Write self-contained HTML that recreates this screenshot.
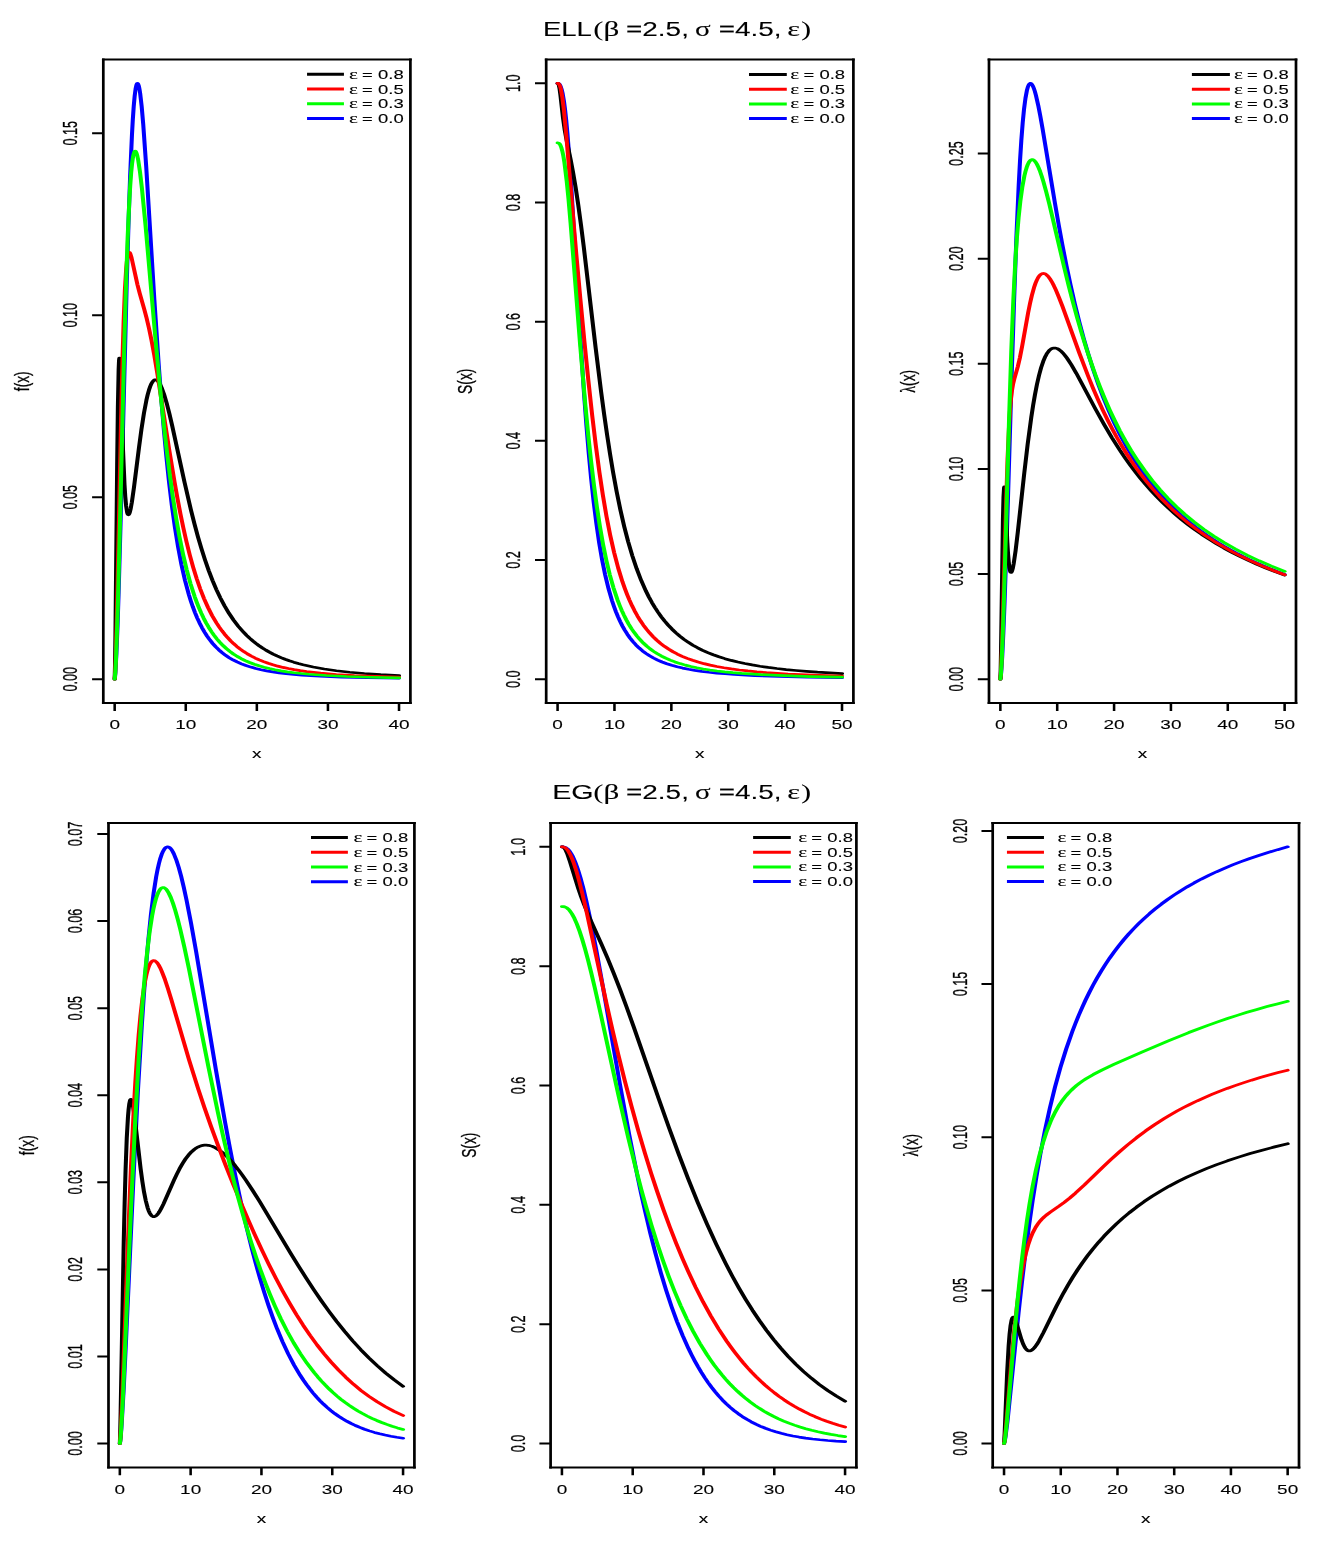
<!DOCTYPE html><html><head><meta charset="utf-8"><title>ELL and EG plots</title><style>html,body{margin:0;padding:0;background:#fff;}svg{display:block}</style></head><body><svg width="1327" height="1543" viewBox="0 0 884.67 1543" preserveAspectRatio="none" font-family="Liberation Sans, Arial, sans-serif" font-size="12.64" fill="#000"><style>text{stroke:#000;stroke-width:0.1px}text.r{stroke-width:0.22px}</style><rect width="100%" height="100%" fill="#fff"/><g fill="none" stroke-width="2.7" stroke-linejoin="round" stroke-linecap="round"><polyline stroke="#0000FF" points="76.45,679.17 76.69,676.8 76.97,671.44 77.63,652.73 78.35,625.84 79.1,591.38 80.57,512.82 84.46,284.96 85.64,224.61 86.73,177.33 87.97,135.08 88.53,119.85 89.15,106.43 89.77,96.19 90.38,89.01 91,84.79 91.33,83.67 91.47,83.43 91.66,83.33 91.85,83.48 92.09,83.99 92.56,86.06 92.99,89.07 93.46,93.58 94.46,106.6 95.5,124.49 97.49,167.06 102.89,299.67 105.83,365.43 107.49,398.42 109.15,428.25 110.86,455.74 112.61,480.79 114.55,505.12 116.59,527.16 118.72,546.93 120.95,564.49 123.32,580.26 125.88,594.49 127.21,600.9 128.58,606.93 130,612.59 131.52,618.04 133.04,622.96 134.65,627.66 136.31,632 138.06,636.12 139.91,639.98 141.8,643.51 143.79,646.79 145.88,649.84 148.06,652.65 150.38,655.29 152.8,657.69 155.36,659.91 158.06,661.95 160.95,663.84 163.98,665.54 167.21,667.1 170.52,668.48 174.03,669.73 177.82,670.87 181.85,671.9 186.16,672.83 190.81,673.67 195.83,674.42 201.23,675.09 213.32,676.2 227.63,677.07 244.88,677.72 266.02,678.21"/><polyline stroke="#000000" points="76.45,679.17 76.69,665.46 76.97,634.82 78.11,465.38 78.58,407.87 79.1,369.69 79.34,361.38 79.48,358.88 79.62,358.06 79.77,358.75 79.96,361.73 80.34,373.17 81.99,449.65 82.99,484.3 83.51,496.59 84.08,505.91 84.7,511.94 84.98,513.52 85.31,514.54 85.6,514.79 85.88,514.52 86.16,513.81 86.5,512.47 87.16,508.44 87.92,502.13 89.34,487.21 92.66,447.62 94.27,429.67 95.97,413.1 97.59,400.33 98.44,394.8 99.29,390.14 100.15,386.37 101,383.46 101.85,381.41 102.7,380.19 103.13,379.87 103.6,379.75 104.03,379.83 104.51,380.14 105.26,381.08 106.07,382.65 106.88,384.77 107.68,387.39 109.43,394.61 111.33,404.36 112.94,413.84 114.79,425.68 123.04,482.43 127.3,509.98 129.62,523.79 131.95,536.66 134.27,548.57 136.59,559.53 139.1,570.37 141.66,580.37 144.27,589.55 146.97,598.1 149.76,606.01 152.7,613.39 155.74,620.12 158.91,626.33 162.61,632.61 164.5,635.49 166.49,638.28 168.53,640.92 170.62,643.41 172.75,645.76 174.98,648.01 177.25,650.13 179.62,652.15 182.09,654.07 184.65,655.88 187.3,657.6 190.05,659.22 192.89,660.73 195.83,662.15 198.86,663.48 202.04,664.73 208.77,666.99 216.16,668.99 224.22,670.72 233.08,672.22 242.89,673.5 253.79,674.6 266.02,675.52"/><polyline stroke="#FF0000" points="76.45,679.17 76.73,673.92 77.07,662.45 77.87,621.12 80.95,403.84 81.71,357.75 82.42,322.16 83.27,290.01 84.13,268.88 84.6,261.32 85.07,256.3 85.6,253.25 85.83,252.59 86.12,252.31 86.45,252.58 86.83,253.56 87.68,257.61 91.61,284.47 93.08,293.03 96.21,309.56 97.68,317.85 99.34,328.35 100.95,339.9 102.85,355.16 104.88,373.27 112.7,448.83 116.35,482.02 118.34,498.69 120.29,513.87 122.23,527.92 124.22,541.16 126.45,554.64 128.72,567.03 131.09,578.56 133.51,589 136.02,598.6 138.68,607.51 141.47,615.7 144.36,623.04 146.12,627 147.92,630.73 149.76,634.23 151.71,637.59 153.7,640.72 155.78,643.7 157.96,646.52 160.19,649.13 162.51,651.58 164.93,653.87 167.44,656.01 170.1,658.03 172.84,659.9 175.74,661.64 178.77,663.27 181.94,664.78 185.21,666.14 188.63,667.4 192.23,668.57 196.07,669.66 200.1,670.65 204.36,671.56 213.7,673.17 224.22,674.49 236.21,675.58 250,676.47 266.02,677.17"/><polyline stroke="#00FF00" points="76.45,679.17 76.83,673.46 77.35,658.3 78.49,608.79 79.62,545.19 82.99,338.6 84.08,281.9 85.07,238.84 86.26,199.44 86.83,185.08 87.44,172.68 88.06,163.36 88.72,156.47 89.39,152.52 89.72,151.54 89.91,151.25 90.1,151.15 90.34,151.28 90.57,151.69 91.09,153.46 91.61,156.32 92.14,160.16 93.32,171.85 94.6,188.04 97.06,225.8 103.75,340.62 107.3,397.17 109.29,425.82 111.24,451.45 113.18,474.75 115.17,496.28 117.35,517.27 119.62,536.54 121.99,554.02 124.46,569.74 127.02,583.76 129.77,596.57 131.19,602.4 132.66,607.93 134.17,613.15 135.78,618.21 137.44,622.94 139.15,627.35 140.9,631.46 142.75,635.37 144.69,639.07 146.68,642.47 148.77,645.65 150.95,648.63 153.22,651.4 155.59,653.96 158.11,656.36 160.71,658.55 163.46,660.59 166.4,662.5 169.48,664.24 172.7,665.83 176.02,667.24 179.57,668.56 183.32,669.75 187.3,670.84 191.52,671.82 196.07,672.72 200.9,673.53 206.11,674.27 217.63,675.5 231.09,676.49 246.97,677.25 266.02,677.84"/></g><path d="M67.97 59.5H274.5M67.97 703H274.5" stroke="#000" stroke-width="2.0" fill="none"/><path d="M68.87 58.5V704M273.6 58.5V704" stroke="#000" stroke-width="1.8" fill="none"/><path d="M76.45 703V710.9M123.84 703V710.9M171.23 703V710.9M218.63 703V710.9M266.02 703V710.9" stroke="#000" stroke-width="1.7" fill="none"/><path d="M68.87 679.17H61.4M68.87 497.21H61.4M68.87 315.26H61.4M68.87 133.31H61.4" stroke="#000" stroke-width="2.0" fill="none"/><text x="76.45" y="729.2" text-anchor="middle">0</text><text x="123.84" y="729.2" text-anchor="middle">10</text><text x="171.23" y="729.2" text-anchor="middle">20</text><text x="218.63" y="729.2" text-anchor="middle">30</text><text x="266.02" y="729.2" text-anchor="middle">40</text><text class="r" transform="translate(51.47 679.17) rotate(-90) scale(1 1.06)" text-anchor="middle">0.00</text><text class="r" transform="translate(51.47 497.21) rotate(-90) scale(1 1.06)" text-anchor="middle">0.05</text><text class="r" transform="translate(51.47 315.26) rotate(-90) scale(1 1.06)" text-anchor="middle">0.10</text><text class="r" transform="translate(51.47 133.31) rotate(-90) scale(1 1.06)" text-anchor="middle">0.15</text><text x="171.23" y="758.4" text-anchor="middle">x</text><text class="r" transform="translate(19.2 381.25) rotate(-90)" text-anchor="middle" font-size="13.8">f(x)</text><path d="M204.7 74.3H229.3" stroke="#000000" stroke-width="3"/><text y="78.9" font-size="12.3"><tspan x="232.63" font-family="Liberation Serif, serif" font-size="14">ε</tspan><tspan x="241.4">=</tspan><tspan x="252.05">0.8</tspan></text><path d="M204.7 89H229.3" stroke="#FF0000" stroke-width="3"/><text y="93.6" font-size="12.3"><tspan x="232.63" font-family="Liberation Serif, serif" font-size="14">ε</tspan><tspan x="241.4">=</tspan><tspan x="252.05">0.5</tspan></text><path d="M204.7 103.7H229.3" stroke="#00FF00" stroke-width="3"/><text y="108.3" font-size="12.3"><tspan x="232.63" font-family="Liberation Serif, serif" font-size="14">ε</tspan><tspan x="241.4">=</tspan><tspan x="252.05">0.3</tspan></text><path d="M204.7 118.4H229.3" stroke="#0000FF" stroke-width="3"/><text y="123" font-size="12.3"><tspan x="232.63" font-family="Liberation Serif, serif" font-size="14">ε</tspan><tspan x="241.4">=</tspan><tspan x="252.05">0.0</tspan></text><g fill="none" stroke-width="2.7" stroke-linejoin="round" stroke-linecap="round"><polyline stroke="#0000FF" points="371.72,83.33 372.24,83.43 372.71,83.82 373.14,84.53 373.57,85.63 374.37,88.97 375.13,93.8 375.94,100.91 376.7,109.51 377.45,119.96 378.26,133.02 379.54,157.52 380.92,188.03 386.56,329.68 389.4,394.45 390.97,425.7 392.53,453.65 394.14,479.14 395.8,502.12 397.56,523.19 399.4,542.25 401.35,559.31 403.43,574.78 405.66,588.6 408.03,600.81 409.27,606.32 410.59,611.69 411.97,616.72 413.39,621.41 414.95,626.04 416.57,630.3 418.27,634.33 420.07,638.11 421.97,641.64 423.96,644.91 426.05,647.94 428.28,650.78 430.6,653.38 433.06,655.8 435.67,658.02 438.47,660.1 441.41,661.99 444.54,663.73 447.85,665.32 451.41,666.78 455.11,668.09 459.04,669.27 463.26,670.36 467.77,671.34 472.6,672.23 477.82,673.05 483.41,673.78 489.48,674.44 503.08,675.56 519.11,676.46 538.26,677.17 561.35,677.72"/><polyline stroke="#000000" points="371.72,83.33 371.91,83.38 372.1,83.59 372.38,84.35 372.67,85.75 373,88.25 373.61,94.98 375.32,117.65 376.41,129.24 377.6,139.19 380.54,160.51 382.1,172.83 383.81,187.98 385.51,205 387.32,224.82 389.26,247.93 397.08,347.63 400.73,391.64 402.72,413.89 404.71,434.72 406.66,453.63 408.65,471.53 411.07,491.32 413.58,509.76 416.14,526.48 418.79,541.83 421.54,555.82 424.44,568.71 427.47,580.48 430.69,591.3 432.59,596.96 434.58,602.41 436.62,607.51 438.71,612.28 440.89,616.83 443.16,621.15 445.53,625.24 448,629.1 450.56,632.72 453.21,636.11 456.01,639.34 458.9,642.34 461.93,645.17 465.11,647.82 468.43,650.3 471.89,652.61 475.49,654.75 479.29,656.76 483.27,658.63 487.49,660.39 491.9,662.01 496.54,663.52 501.47,664.92 506.64,666.22 512.14,667.42 517.92,668.52 524.09,669.55 530.63,670.49 537.6,671.36 544.99,672.16 561.35,673.56"/><polyline stroke="#FF0000" points="371.72,83.33 372.1,83.41 372.38,83.63 372.9,84.6 373.43,86.46 373.9,89.04 374.89,97.35 375.94,110.06 377.64,137.27 381.63,209.66 384.14,253.36 386.89,298.82 389.59,341.35 392.25,380.64 394.76,414.99 397.18,445.08 399.59,472.08 401.92,495.16 404.33,516.35 406.8,535.22 409.41,552.51 412.11,567.89 415,581.9 416.47,588.18 418.04,594.32 419.65,600.1 421.31,605.54 423.11,610.91 424.96,615.9 426.9,620.65 428.89,625.04 430.98,629.18 433.16,633.07 435.43,636.71 437.8,640.11 440.32,643.32 442.92,646.29 445.67,649.07 448.52,651.62 451.55,654.02 454.78,656.28 458.14,658.34 461.7,660.26 465.4,662 469.33,663.63 473.45,665.11 477.86,666.48 482.56,667.75 487.53,668.91 492.84,669.98 498.49,670.95 504.51,671.84 510.95,672.64 525.32,674.05 541.96,675.2 561.35,676.13"/><polyline stroke="#00FF00" points="371.72,142.92 372.24,143.01 372.67,143.33 373.05,143.87 373.43,144.69 374.18,147.33 374.89,151.14 375.61,156.31 376.32,162.89 377.83,181.29 379.02,199.23 380.39,222.9 386.75,344.35 390.21,404.71 392.1,434.09 394,460.65 395.94,484.98 397.89,506.54 399.93,526.38 402.01,544.06 404.24,560.36 406.56,574.91 409.03,588.01 411.68,599.9 413.06,605.28 414.48,610.36 415.95,615.15 417.51,619.78 419.17,624.22 420.93,628.45 422.78,632.45 424.67,636.13 426.66,639.59 428.8,642.9 430.98,645.9 433.3,648.74 435.72,651.36 438.28,653.81 440.98,656.09 443.83,658.2 446.81,660.13 449.99,661.93 453.35,663.6 456.91,665.12 460.61,666.5 464.54,667.76 468.76,668.94 473.22,670 478.01,670.98 483.08,671.86 488.53,672.68 494.36,673.41 507.35,674.68 522.52,675.72 540.3,676.55 561.35,677.21"/></g><path d="M363.23 59.5H569.83M363.23 703H569.83" stroke="#000" stroke-width="2.0" fill="none"/><path d="M364.13 58.5V704M568.93 58.5V704" stroke="#000" stroke-width="1.8" fill="none"/><path d="M371.72 703V710.9M409.64 703V710.9M447.57 703V710.9M485.5 703V710.9M523.42 703V710.9M561.35 703V710.9" stroke="#000" stroke-width="1.7" fill="none"/><path d="M364.13 679.17H356.67M364.13 560H356.67M364.13 440.83H356.67M364.13 321.67H356.67M364.13 202.5H356.67M364.13 83.33H356.67" stroke="#000" stroke-width="2.0" fill="none"/><text x="371.72" y="729.2" text-anchor="middle">0</text><text x="409.64" y="729.2" text-anchor="middle">10</text><text x="447.57" y="729.2" text-anchor="middle">20</text><text x="485.5" y="729.2" text-anchor="middle">30</text><text x="523.42" y="729.2" text-anchor="middle">40</text><text x="561.35" y="729.2" text-anchor="middle">50</text><text class="r" transform="translate(346.73 679.17) rotate(-90) scale(1 1.06)" text-anchor="middle">0.0</text><text class="r" transform="translate(346.73 560) rotate(-90) scale(1 1.06)" text-anchor="middle">0.2</text><text class="r" transform="translate(346.73 440.83) rotate(-90) scale(1 1.06)" text-anchor="middle">0.4</text><text class="r" transform="translate(346.73 321.67) rotate(-90) scale(1 1.06)" text-anchor="middle">0.6</text><text class="r" transform="translate(346.73 202.5) rotate(-90) scale(1 1.06)" text-anchor="middle">0.8</text><text class="r" transform="translate(346.73 83.33) rotate(-90) scale(1 1.06)" text-anchor="middle">1.0</text><text x="466.53" y="758.4" text-anchor="middle">x</text><text class="r" transform="translate(314.47 381.25) rotate(-90)" text-anchor="middle" font-size="13.8">S(x)</text><path d="M499.33 74.5H524.53" stroke="#000000" stroke-width="3"/><text y="79.1" font-size="12.3"><tspan x="526.86" font-family="Liberation Serif, serif" font-size="14">ε</tspan><tspan x="535.63">=</tspan><tspan x="546.29">0.8</tspan></text><path d="M499.33 89.2H524.53" stroke="#FF0000" stroke-width="3"/><text y="93.8" font-size="12.3"><tspan x="526.86" font-family="Liberation Serif, serif" font-size="14">ε</tspan><tspan x="535.63">=</tspan><tspan x="546.29">0.5</tspan></text><path d="M499.33 103.9H524.53" stroke="#00FF00" stroke-width="3"/><text y="108.5" font-size="12.3"><tspan x="526.86" font-family="Liberation Serif, serif" font-size="14">ε</tspan><tspan x="535.63">=</tspan><tspan x="546.29">0.3</tspan></text><path d="M499.33 118.6H524.53" stroke="#0000FF" stroke-width="3"/><text y="123.2" font-size="12.3"><tspan x="526.86" font-family="Liberation Serif, serif" font-size="14">ε</tspan><tspan x="535.63">=</tspan><tspan x="546.29">0.0</tspan></text><g fill="none" stroke-width="2.7" stroke-linejoin="round" stroke-linecap="round"><polyline stroke="#0000FF" points="666.91,679.17 667.15,677.26 667.48,672.06 668.15,656.53 668.9,632.84 669.71,602.51 671.27,533.11 674.54,371.08 676.01,302.52 677.62,236.48 679.14,185.32 679.99,161.55 680.89,140.35 681.79,122.97 682.69,109.19 683.64,98.25 684.63,90.28 685.11,87.64 685.63,85.5 686.15,84.12 686.43,83.67 686.72,83.41 687,83.33 687.29,83.44 687.9,84.24 688.56,85.9 689.23,88.28 689.94,91.55 690.65,95.44 692.21,105.78 693.49,115.61 695.01,128.33 703.35,203.71 705.81,224.89 708.23,244.59 710.97,265.63 713.77,285.51 716.56,303.93 719.45,321.52 722.44,338.25 725.57,354.36 728.79,369.58 732.1,383.94 735.56,397.66 739.21,410.9 742.95,423.3 746.89,435.21 751.48,447.85 756.27,459.73 761.29,470.99 763.89,476.4 766.59,481.72 769.34,486.87 772.14,491.84 775.03,496.72 778.01,501.51 781.04,506.13 784.17,510.65 787.34,515.01 790.61,519.27 793.98,523.43 797.44,527.49 800.99,531.45 804.59,535.26 808.33,539.02 812.17,542.68 816.1,546.24 820.13,549.69 824.25,553.05 828.51,556.35 832.87,559.55 837.33,562.65 841.92,565.68 846.61,568.62 851.45,571.5 856.42,574.31"/><polyline stroke="#000000" points="666.91,679.17 667.1,671.25 667.34,652.67 668.62,519.95 669,497.42 669.38,487.68 669.52,486.94 669.66,487.53 669.99,492.98 671.56,542.19 671.98,552.78 672.46,561.62 672.98,568.03 673.5,571.46 673.78,572.28 673.93,572.45 674.07,572.46 674.4,571.96 674.73,570.81 675.25,567.89 675.77,563.88 677.05,550.81 678.52,532.44 682.78,474.02 685.06,444.95 687.52,417.37 688.75,405.36 689.94,394.99 691.31,384.41 692.69,375.37 694.06,367.8 695.48,361.44 696.9,356.46 697.66,354.33 698.42,352.54 699.18,351.08 699.98,349.86 700.79,348.96 701.64,348.34 702.68,348 703.77,348.1 704.91,348.65 706.05,349.6 707.28,351.04 708.56,352.92 709.93,355.32 711.35,358.15 714.24,364.75 717.61,373.42 730.26,408.87 736.08,424.58 741.39,438 746.6,450.27 749.96,457.71 753.38,464.87 756.79,471.67 760.29,478.29 763.85,484.64 767.49,490.81 771.24,496.79 775.03,502.51 779.1,508.3 783.27,513.88 787.58,519.31 791.99,524.52 796.54,529.58 801.18,534.42 805.96,539.12 810.94,543.7 816.01,548.08 821.27,552.35 826.67,556.46 832.26,560.46 838.04,564.33 843.96,568.05 850.07,571.65 856.42,575.15"/><polyline stroke="#FF0000" points="666.91,679.17 667.15,675.94 667.48,667.2 668.19,639.2 670.66,507.59 671.75,457.82 672.84,422.14 673.4,409.02 674.02,398.37 674.64,390.64 675.35,384.32 676.2,378.93 678.52,366.83 679.89,357.98 681.41,346.32 685.44,312.67 686.72,303.19 687.9,295.46 689.56,286.59 690.36,283.13 691.22,280.08 692.07,277.63 692.92,275.78 693.78,274.49 694.68,273.7 695.15,273.5 695.67,273.46 696.14,273.56 696.67,273.83 697.76,274.88 698.85,276.52 699.98,278.79 701.17,281.67 702.45,285.3 703.82,289.68 705.9,297.07 708.32,306.43 719.45,352.66 725.47,376.28 728.74,388.27 732.01,399.61 735.28,410.3 738.59,420.52 741.53,429.05 744.56,437.37 747.64,445.36 750.82,453.12 754.04,460.54 757.36,467.73 760.77,474.69 764.27,481.42 768.58,489.15 773.08,496.65 777.73,503.81 782.51,510.66 787.49,517.25 792.65,523.59 798,529.68 803.55,535.52 809.33,541.15 815.3,546.53 821.5,551.71 827.99,556.71 834.67,561.48 841.64,566.07 848.89,570.49 856.42,574.74"/><polyline stroke="#00FF00" points="666.91,679.17 667.29,674.05 667.77,661.91 668.9,618.35 669.95,567.37 672.69,420.6 674.21,350.36 675.54,300.75 676.91,260.92 677.95,237.43 679.04,217.86 680.23,201.17 681.51,187.31 682.93,175.88 683.64,171.48 684.4,167.64 685.15,164.61 685.96,162.23 686.76,160.64 687.19,160.11 687.62,159.77 688.04,159.64 688.52,159.7 688.94,159.95 689.42,160.42 690.36,161.96 691.31,164.23 692.31,167.32 693.35,171.22 694.44,175.95 695.62,181.71 697.42,191.46 699.51,203.81 709.51,267.59 712.3,284.69 715,300.47 718.03,317.26 721.06,333.02 724.14,347.99 727.27,362.16 730.3,374.98 733.38,387.12 736.6,398.94 739.87,410.1 743.24,420.77 746.74,431.09 750.34,440.93 754.09,450.42 758.59,460.92 763.28,470.93 768.2,480.55 773.32,489.67 778.67,498.38 784.27,506.69 790.09,514.59 796.2,522.15 802.6,529.37 809.28,536.24 816.29,542.82 823.59,549.06 831.26,555.04 839.27,560.73 847.66,566.16 856.42,571.33"/></g><path d="M658.43 59.5H864.9M658.43 703H864.9" stroke="#000" stroke-width="2.0" fill="none"/><path d="M659.33 58.5V704M864 58.5V704" stroke="#000" stroke-width="1.8" fill="none"/><path d="M666.91 703V710.9M704.81 703V710.9M742.72 703V710.9M780.62 703V710.9M818.52 703V710.9M856.42 703V710.9" stroke="#000" stroke-width="1.7" fill="none"/><path d="M659.33 679.17H651.87M659.33 574.05H651.87M659.33 468.94H651.87M659.33 363.83H651.87M659.33 258.72H651.87M659.33 153.61H651.87" stroke="#000" stroke-width="2.0" fill="none"/><text x="666.91" y="729.2" text-anchor="middle">0</text><text x="704.81" y="729.2" text-anchor="middle">10</text><text x="742.72" y="729.2" text-anchor="middle">20</text><text x="780.62" y="729.2" text-anchor="middle">30</text><text x="818.52" y="729.2" text-anchor="middle">40</text><text x="856.42" y="729.2" text-anchor="middle">50</text><text class="r" transform="translate(641.93 679.17) rotate(-90) scale(1 1.06)" text-anchor="middle">0.00</text><text class="r" transform="translate(641.93 574.05) rotate(-90) scale(1 1.06)" text-anchor="middle">0.05</text><text class="r" transform="translate(641.93 468.94) rotate(-90) scale(1 1.06)" text-anchor="middle">0.10</text><text class="r" transform="translate(641.93 363.83) rotate(-90) scale(1 1.06)" text-anchor="middle">0.15</text><text class="r" transform="translate(641.93 258.72) rotate(-90) scale(1 1.06)" text-anchor="middle">0.20</text><text class="r" transform="translate(641.93 153.61) rotate(-90) scale(1 1.06)" text-anchor="middle">0.25</text><text x="761.67" y="758.4" text-anchor="middle">x</text><text class="r" transform="translate(609.67 381.25) rotate(-90)" text-anchor="middle" font-size="13.8"><tspan font-family="Liberation Serif, serif">λ</tspan>(x)</text><path d="M794.6 74.5H819.93" stroke="#000000" stroke-width="3"/><text y="79.1" font-size="12.3"><tspan x="822.59" font-family="Liberation Serif, serif" font-size="14">ε</tspan><tspan x="831.37">=</tspan><tspan x="842.02">0.8</tspan></text><path d="M794.6 89.2H819.93" stroke="#FF0000" stroke-width="3"/><text y="93.8" font-size="12.3"><tspan x="822.59" font-family="Liberation Serif, serif" font-size="14">ε</tspan><tspan x="831.37">=</tspan><tspan x="842.02">0.5</tspan></text><path d="M794.6 103.9H819.93" stroke="#00FF00" stroke-width="3"/><text y="108.5" font-size="12.3"><tspan x="822.59" font-family="Liberation Serif, serif" font-size="14">ε</tspan><tspan x="831.37">=</tspan><tspan x="842.02">0.3</tspan></text><path d="M794.6 118.6H819.93" stroke="#0000FF" stroke-width="3"/><text y="123.2" font-size="12.3"><tspan x="822.59" font-family="Liberation Serif, serif" font-size="14">ε</tspan><tspan x="831.37">=</tspan><tspan x="842.02">0.0</tspan></text><g fill="none" stroke-width="2.7" stroke-linejoin="round" stroke-linecap="round"><polyline stroke="#0000FF" points="79.89,1443.53 80.08,1442.32 80.36,1438.82 80.97,1427.55 82.48,1388.49 83.99,1341.55 88.81,1183.21 91.88,1092.51 94.57,1024.53 95.89,995.46 97.21,969.26 98.91,939.75 100.61,914.8 102.36,893.69 104.1,876.91 105,869.88 105.9,863.87 106.84,858.61 107.79,854.38 108.73,851.15 109.72,848.76 110.19,847.97 110.71,847.35 111.18,847.01 111.7,846.87 112.36,847.03 113.07,847.62 113.78,848.61 114.49,849.98 115.2,851.73 115.95,853.98 117.51,859.79 119.12,867.27 120.77,876.36 122.51,887.29 124.36,900.07 127.33,922.89 130.73,951.35 143.9,1069.48 150.04,1122.09 153.25,1147.98 156.41,1172.22 159.48,1194.45 162.55,1215.36 165.24,1232.61 167.93,1248.85 170.62,1264.09 173.36,1278.6 176.14,1292.35 178.93,1305.13 181.76,1317.17 184.64,1328.48 188.32,1341.64 192.14,1353.89 196.11,1365.18 200.17,1375.39 202.25,1380.13 204.37,1384.66 206.54,1388.98 208.76,1393.1 211.03,1397 213.34,1400.69 215.7,1404.17 218.16,1407.52 220.61,1410.59 223.16,1413.52 225.76,1416.24 228.4,1418.78 231.14,1421.17 233.97,1423.41 236.9,1425.5 239.92,1427.43 243.03,1429.22 246.24,1430.86 249.59,1432.38 253.09,1433.78 256.72,1435.06 260.55,1436.22 264.51,1437.27 268.71,1438.21"/><polyline stroke="#000000" points="79.89,1443.53 80.12,1434.17 80.45,1411.23 82.48,1242.8 83.1,1202.73 83.71,1170.07 84.51,1138.05 85.32,1116.83 85.74,1109.36 86.21,1103.71 86.68,1100.48 86.92,1099.67 87.16,1099.34 87.39,1099.45 87.63,1099.96 88.1,1102.05 88.62,1105.73 89.23,1111.51 90.27,1123.66 93.72,1168.41 94.9,1181.45 96.03,1192.03 97.21,1200.89 98.39,1207.6 99.01,1210.29 99.62,1212.46 100.23,1214.14 100.89,1215.45 101.51,1216.23 102.12,1216.63 102.73,1216.67 103.4,1216.37 104.06,1215.74 104.76,1214.73 105.52,1213.34 106.28,1211.67 107.55,1208.32 109.01,1203.88 116,1180.08 117.89,1174.09 119.68,1168.83 121.71,1163.48 123.69,1158.91 125.68,1155.02 127.66,1151.8 129.78,1149.09 130.87,1147.98 131.96,1147.07 133.04,1146.34 134.17,1145.77 135.26,1145.4 136.39,1145.19 137.53,1145.16 138.71,1145.31 139.89,1145.63 141.07,1146.13 142.25,1146.79 143.47,1147.64 145.98,1149.87 147.96,1152.07 149.99,1154.69 152.11,1157.78 154.28,1161.29 156.55,1165.29 158.91,1169.77 161.37,1174.74 163.96,1180.29 168.3,1190.11 173.21,1201.83 193.84,1253.39 198.99,1265.95 203.76,1277.26 209.09,1289.47 214.28,1300.84 219.38,1311.48 224.39,1321.39 229.77,1331.44 235.15,1340.87 240.53,1349.67 246.01,1358 251.53,1365.78 257.15,1373.08 262.86,1379.9 268.71,1386.29"/><polyline stroke="#FF0000" points="79.89,1443.53 80.17,1439.84 80.5,1432.09 81.4,1402.51 85.27,1242.73 87.3,1167.71 89.23,1108.1 90.22,1082.25 91.22,1059.47 92.44,1035.3 93.67,1015.29 94.95,998.5 96.27,984.94 96.98,979.14 97.68,974.25 98.39,970.22 99.15,966.8 99.9,964.2 100.7,962.26 101.51,961.09 101.93,960.76 102.36,960.62 102.73,960.63 103.16,960.81 104.01,961.62 104.91,963.07 105.8,965.07 106.75,967.67 107.79,971.05 110,979.7 111.89,988.18 114.16,999.19 126.01,1059.82 132.1,1088.84 136.3,1107.65 140.69,1126.39 145.41,1145.65 150.37,1165.05 155.23,1183.38 160.14,1201.23 165.05,1218.45 169.91,1234.85 174.63,1250.15 179.3,1264.63 183.88,1278.16 188.41,1290.9 192.99,1303.07 197.57,1314.55 202.15,1325.33 206.78,1335.51 211.4,1345 216.08,1353.89 220.85,1362.28 225.66,1370.08 230.57,1377.37 235.62,1384.22 240.77,1390.54 246.01,1396.37 251.44,1401.79 257.01,1406.77 262.77,1411.34 268.71,1415.51"/><polyline stroke="#00FF00" points="79.89,1443.53 80.26,1439.51 80.78,1429.26 82.01,1395.09 87.39,1207.4 90.08,1122.49 92.54,1056.88 93.77,1028.61 95.04,1002.41 96.6,974.65 98.16,951.35 99.76,931.71 101.41,915.76 102.26,909.13 103.11,903.49 103.96,898.79 104.86,894.79 105.76,891.73 106.7,889.45 107.17,888.66 107.64,888.08 108.12,887.72 108.64,887.55 109.25,887.66 109.86,888.08 110.48,888.8 111.14,889.89 112.46,892.98 113.88,897.51 115.34,903.37 116.85,910.49 118.45,919.08 120.15,929.14 122.89,946.99 126.01,969.06 138.94,1066.79 145.36,1113.09 148.76,1136.18 152.11,1157.83 155.42,1178.06 158.72,1197.16 161.65,1213.13 164.62,1228.47 167.6,1242.94 170.62,1256.77 173.69,1269.96 176.8,1282.51 179.96,1294.41 183.22,1305.84 187.28,1318.98 191.48,1331.37 195.78,1342.86 200.17,1353.48 204.75,1363.45 209.47,1372.66 211.88,1376.96 214.33,1381.1 216.83,1385.08 219.38,1388.88 221.98,1392.52 224.62,1395.99 227.31,1399.29 230.05,1402.43 232.84,1405.41 235.72,1408.27 238.64,1410.98 241.66,1413.56 244.73,1415.99 247.9,1418.3 251.15,1420.48 254.46,1422.51 257.86,1424.42 261.35,1426.21 264.98,1427.9 268.71,1429.47"/></g><path d="M71.43 823H277.17M71.43 1467.4H277.17" stroke="#000" stroke-width="2.0" fill="none"/><path d="M72.33 822V1468.4M276.27 822V1468.4" stroke="#000" stroke-width="1.8" fill="none"/><path d="M79.89 1467.4V1475.3M127.09 1467.4V1475.3M174.3 1467.4V1475.3M221.51 1467.4V1475.3M268.71 1467.4V1475.3" stroke="#000" stroke-width="1.7" fill="none"/><path d="M72.33 1443.53H64.87M72.33 1356.46H64.87M72.33 1269.39H64.87M72.33 1182.31H64.87M72.33 1095.24H64.87M72.33 1008.17H64.87M72.33 921.09H64.87M72.33 834.02H64.87" stroke="#000" stroke-width="2.0" fill="none"/><text x="79.89" y="1493.6" text-anchor="middle">0</text><text x="127.09" y="1493.6" text-anchor="middle">10</text><text x="174.3" y="1493.6" text-anchor="middle">20</text><text x="221.51" y="1493.6" text-anchor="middle">30</text><text x="268.71" y="1493.6" text-anchor="middle">40</text><text class="r" transform="translate(54.93 1443.53) rotate(-90) scale(1 1.06)" text-anchor="middle">0.00</text><text class="r" transform="translate(54.93 1356.46) rotate(-90) scale(1 1.06)" text-anchor="middle">0.01</text><text class="r" transform="translate(54.93 1269.39) rotate(-90) scale(1 1.06)" text-anchor="middle">0.02</text><text class="r" transform="translate(54.93 1182.31) rotate(-90) scale(1 1.06)" text-anchor="middle">0.03</text><text class="r" transform="translate(54.93 1095.24) rotate(-90) scale(1 1.06)" text-anchor="middle">0.04</text><text class="r" transform="translate(54.93 1008.17) rotate(-90) scale(1 1.06)" text-anchor="middle">0.05</text><text class="r" transform="translate(54.93 921.09) rotate(-90) scale(1 1.06)" text-anchor="middle">0.06</text><text class="r" transform="translate(54.93 834.02) rotate(-90) scale(1 1.06)" text-anchor="middle">0.07</text><text x="174.3" y="1522.8" text-anchor="middle">x</text><text class="r" transform="translate(22.67 1145.2) rotate(-90)" text-anchor="middle" font-size="13.8">f(x)</text><path d="M207.33 837.6H231.93" stroke="#000000" stroke-width="3"/><text y="842.2" font-size="12.3"><tspan x="235.63" font-family="Liberation Serif, serif" font-size="14">ε</tspan><tspan x="244.4">=</tspan><tspan x="255.05">0.8</tspan></text><path d="M207.33 852.3H231.93" stroke="#FF0000" stroke-width="3"/><text y="856.9" font-size="12.3"><tspan x="235.63" font-family="Liberation Serif, serif" font-size="14">ε</tspan><tspan x="244.4">=</tspan><tspan x="255.05">0.5</tspan></text><path d="M207.33 867H231.93" stroke="#00FF00" stroke-width="3"/><text y="871.6" font-size="12.3"><tspan x="235.63" font-family="Liberation Serif, serif" font-size="14">ε</tspan><tspan x="244.4">=</tspan><tspan x="255.05">0.3</tspan></text><path d="M207.33 881.7H231.93" stroke="#0000FF" stroke-width="3"/><text y="886.3" font-size="12.3"><tspan x="235.63" font-family="Liberation Serif, serif" font-size="14">ε</tspan><tspan x="244.4">=</tspan><tspan x="255.05">0.0</tspan></text><g fill="none" stroke-width="2.7" stroke-linejoin="round" stroke-linecap="round"><polyline stroke="#0000FF" points="374.62,846.87 375.66,846.96 376.55,847.29 377.45,847.93 378.3,848.85 379.15,850.11 380,851.71 380.85,853.67 381.7,855.97 383.44,861.78 385.19,868.99 386.98,877.75 388.87,888.32 390.8,900.43 392.88,914.67 395.1,931.06 397.51,949.95 401.85,986.03 413.27,1084.15 419.54,1135.27 424.83,1175.12 427.42,1193.44 429.97,1210.59 433.46,1232.71 436.96,1253.22 440.5,1272.39 444.04,1289.98 447.67,1306.47 451.35,1321.62 455.13,1335.65 459,1348.54 461.07,1354.89 463.2,1360.98 465.37,1366.82 467.54,1372.28 469.76,1377.5 472.02,1382.47 474.33,1387.18 476.69,1391.65 479.1,1395.86 481.6,1399.9 484.15,1403.69 486.74,1407.23 489.43,1410.59 492.17,1413.71 495,1416.64 497.88,1419.33 500.81,1421.81 503.87,1424.15 506.99,1426.28 510.25,1428.26 513.64,1430.1 517.14,1431.76 520.77,1433.28 524.59,1434.68 528.56,1435.93 532.71,1437.06 537.1,1438.08 541.72,1438.98 546.63,1439.78 551.82,1440.47 557.39,1441.08 563.38,1441.6"/><polyline stroke="#000000" points="374.62,846.87 375.09,846.94 375.51,847.2 375.89,847.61 376.32,848.3 377.17,850.33 378.06,853.29 379.95,861.37 385.57,888.63 387.41,896.65 389.29,904.23 393.07,917.88 401.04,944.43 404.96,957.94 409.11,973.06 413.36,989.41 417.66,1006.72 422.42,1026.63 439.03,1098.2 445.83,1126.97 452.53,1154.39 458.81,1178.95 465.13,1202.44 471.36,1224.23 477.54,1244.47 483.68,1263.17 488.11,1275.84 492.6,1287.93 497.13,1299.43 501.7,1310.33 506.33,1320.64 511,1330.37 515.77,1339.61 520.58,1348.27 525.49,1356.44 530.54,1364.2 535.68,1371.46 540.92,1378.24 546.3,1384.59 551.82,1390.53 557.53,1396.08 563.38,1401.21"/><polyline stroke="#FF0000" points="374.62,846.87 375.42,846.95 376.08,847.21 376.74,847.71 377.35,848.4 378.02,849.4 378.63,850.58 379.95,853.88 381.32,858.35 382.73,864.02 384.24,871.07 385.8,879.28 388.16,893.12 390.85,910.4 404.4,1003.97 408.36,1030.24 412.18,1054.51 416.57,1081.02 420.96,1106.1 425.44,1130.3 429.97,1153.36 434.03,1172.9 438.14,1191.64 442.29,1209.58 446.49,1226.73 450.74,1243.08 455.03,1258.63 459.33,1273.22 463.71,1287.18 468.76,1302.09 473.91,1316.07 479.1,1329 484.43,1341.1 487.17,1346.88 489.91,1352.38 492.69,1357.69 495.47,1362.73 498.31,1367.59 501.18,1372.26 504.11,1376.74 507.08,1381.04 510.06,1385.09 513.12,1389.01 516.24,1392.75 519.4,1396.31 522.61,1399.68 525.91,1402.93 529.26,1405.99 532.71,1408.91 536.2,1411.66 539.79,1414.27 543.47,1416.74 547.24,1419.06 551.11,1421.25 555.08,1423.3 559.18,1425.24 563.38,1427.03"/><polyline stroke="#00FF00" points="374.62,906.53 375.61,906.61 376.46,906.88 377.26,907.37 378.06,908.11 378.86,909.1 379.67,910.37 381.27,913.73 382.92,918.29 384.62,924.1 386.37,931.14 388.16,939.39 390.05,949.04 392.03,960.09 394.15,972.79 396.47,987.4 400.67,1015.36 412.28,1095.01 418.93,1138.38 424.78,1173.8 427.66,1190.16 430.49,1205.53 434.27,1224.92 438.09,1243.25 441.91,1260.31 445.78,1276.33 449.75,1291.48 453.76,1305.59 457.86,1318.83 462.06,1331.2 466.64,1343.42 471.31,1354.64 473.72,1359.96 476.17,1365.08 478.67,1370.01 481.18,1374.65 483.72,1379.1 486.37,1383.43 489.01,1387.49 491.75,1391.43 494.53,1395.17 497.36,1398.72 500.29,1402.12 503.26,1405.33 506.28,1408.36 509.35,1411.2 512.51,1413.89 515.72,1416.42 519.07,1418.83 522.47,1421.07 525.96,1423.17 529.59,1425.16 533.32,1427 537.14,1428.71 541.11,1430.3 545.26,1431.79 549.51,1433.15 553.94,1434.4 558.57,1435.56 563.38,1436.61"/></g><path d="M366.17 823H571.83M366.17 1467.4H571.83" stroke="#000" stroke-width="2.0" fill="none"/><path d="M367.07 822V1468.4M570.93 822V1468.4" stroke="#000" stroke-width="1.8" fill="none"/><path d="M374.62 1467.4V1475.3M421.81 1467.4V1475.3M469 1467.4V1475.3M516.19 1467.4V1475.3M563.38 1467.4V1475.3" stroke="#000" stroke-width="1.7" fill="none"/><path d="M367.07 1443.53H359.6M367.07 1324.2H359.6M367.07 1204.87H359.6M367.07 1085.53H359.6M367.07 966.2H359.6M367.07 846.87H359.6" stroke="#000" stroke-width="2.0" fill="none"/><text x="374.62" y="1493.6" text-anchor="middle">0</text><text x="421.81" y="1493.6" text-anchor="middle">10</text><text x="469" y="1493.6" text-anchor="middle">20</text><text x="516.19" y="1493.6" text-anchor="middle">30</text><text x="563.38" y="1493.6" text-anchor="middle">40</text><text class="r" transform="translate(349.67 1443.53) rotate(-90) scale(1 1.06)" text-anchor="middle">0.0</text><text class="r" transform="translate(349.67 1324.2) rotate(-90) scale(1 1.06)" text-anchor="middle">0.2</text><text class="r" transform="translate(349.67 1204.87) rotate(-90) scale(1 1.06)" text-anchor="middle">0.4</text><text class="r" transform="translate(349.67 1085.53) rotate(-90) scale(1 1.06)" text-anchor="middle">0.6</text><text class="r" transform="translate(349.67 966.2) rotate(-90) scale(1 1.06)" text-anchor="middle">0.8</text><text class="r" transform="translate(349.67 846.87) rotate(-90) scale(1 1.06)" text-anchor="middle">1.0</text><text x="469" y="1522.8" text-anchor="middle">x</text><text class="r" transform="translate(317.4 1145.2) rotate(-90)" text-anchor="middle" font-size="13.8">S(x)</text><path d="M502.07 837.5H527.2" stroke="#000000" stroke-width="3"/><text y="842.1" font-size="12.3"><tspan x="532.09" font-family="Liberation Serif, serif" font-size="14">ε</tspan><tspan x="540.87">=</tspan><tspan x="551.52">0.8</tspan></text><path d="M502.07 852.2H527.2" stroke="#FF0000" stroke-width="3"/><text y="856.8" font-size="12.3"><tspan x="532.09" font-family="Liberation Serif, serif" font-size="14">ε</tspan><tspan x="540.87">=</tspan><tspan x="551.52">0.5</tspan></text><path d="M502.07 866.9H527.2" stroke="#00FF00" stroke-width="3"/><text y="871.5" font-size="12.3"><tspan x="532.09" font-family="Liberation Serif, serif" font-size="14">ε</tspan><tspan x="540.87">=</tspan><tspan x="551.52">0.3</tspan></text><path d="M502.07 881.6H527.2" stroke="#0000FF" stroke-width="3"/><text y="886.2" font-size="12.3"><tspan x="532.09" font-family="Liberation Serif, serif" font-size="14">ε</tspan><tspan x="540.87">=</tspan><tspan x="551.52">0.0</tspan></text><g fill="none" stroke-width="2.7" stroke-linejoin="round" stroke-linecap="round"><polyline stroke="#0000FF" points="669.36,1443.53 669.79,1441.56 670.31,1437.19 671.73,1420.42 679.05,1312.56 681.37,1281.18 683.69,1252.27 686.05,1225.28 688.46,1200.19 690.96,1176.49 693.56,1154.2 696.64,1130.52 699.9,1108.12 703.35,1087.05 706.99,1067.31 710.82,1048.88 714.88,1031.52 717.01,1023.22 719.18,1015.24 721.41,1007.56 723.72,1000.02 726.18,992.5 728.73,985.17 731.38,978.04 734.07,971.22 736.91,964.49 739.79,958.07 742.77,951.85 745.84,945.83 749.01,940 752.32,934.3 755.68,928.87 759.17,923.56 762.77,918.44 766.5,913.46 770.33,908.67 774.3,904.01 778.41,899.48 782.62,895.14 786.97,890.93 791.46,886.85 796.09,882.91 800.91,879.06 805.87,875.35 810.98,871.76 816.27,868.28 821.71,864.93 827.38,861.65 833.2,858.5 839.2,855.45 845.39,852.51 851.82,849.64 858.44,846.87"/><polyline stroke="#000000" points="669.36,1443.53 669.79,1433.13 671.44,1372.49 672.44,1345.84 673.05,1334.3 673.71,1325.65 674.42,1320.04 674.8,1318.34 675.18,1317.39 675.37,1317.17 675.6,1317.09 676.03,1317.46 676.5,1318.5 676.97,1320.07 677.87,1324 680.94,1339.41 682.03,1343.74 683.12,1347.05 683.69,1348.37 684.25,1349.4 684.82,1350.16 685.39,1350.66 685.95,1350.91 686.57,1350.93 687.18,1350.69 687.84,1350.19 688.88,1348.93 690.02,1347.01 691.25,1344.42 692.57,1341.17 695.6,1332.65 704.29,1306.26 709.02,1292.92 712.05,1284.97 715.12,1277.37 718.24,1270.12 721.45,1263.1 724.95,1255.95 728.54,1249.1 732.28,1242.45 736.11,1236.08 740.08,1229.93 744.19,1223.99 748.44,1218.26 752.84,1212.75 757.76,1207.02 762.81,1201.56 768.11,1196.27 773.59,1191.2 779.26,1186.34 785.17,1181.65 791.27,1177.17 797.65,1172.83 804.27,1168.67 811.17,1164.66 818.31,1160.82 825.73,1157.13 833.43,1153.58 841.47,1150.16 849.79,1146.88 858.44,1143.73"/><polyline stroke="#FF0000" points="669.36,1443.53 669.6,1442.15 669.88,1439.17 670.64,1428 674.14,1363.76 676.12,1331.36 678.11,1304.43 679.15,1292.46 680.19,1281.84 681.42,1270.9 682.69,1261.18 684.06,1252.38 685.48,1244.81 686.99,1238.17 688.6,1232.45 690.4,1227.36 692.34,1223.05 693.47,1220.95 694.65,1219.03 695.98,1217.12 697.44,1215.24 699.99,1212.34 706.23,1205.85 709.49,1202.29 713.09,1198.05 716.82,1193.3 723.06,1184.74 735.3,1167.08 740.79,1159.34 746.46,1151.67 751.85,1144.75 757.85,1137.52 763.85,1130.79 769.95,1124.47 776.19,1118.48 780.4,1114.71 784.7,1111.06 789.09,1107.53 793.63,1104.09 798.26,1100.77 803.04,1097.53 807.91,1094.41 812.92,1091.38 818.07,1088.44 823.36,1085.59 828.8,1082.83 834.38,1080.15 840.14,1077.54 846.05,1075.01 852.15,1072.55 858.44,1070.16"/><polyline stroke="#00FF00" points="669.36,1443.53 669.69,1441.74 670.12,1437.52 671.21,1422.38 676.55,1329.63 678.15,1303.85 679.76,1280.14 681.37,1258.54 682.98,1239 684.63,1220.92 686.38,1203.86 688.41,1186.44 690.54,1170.66 692.81,1156.23 695.17,1143.44 697.68,1132.01 700.32,1121.91 701.74,1117.21 703.21,1112.81 704.72,1108.69 706.28,1104.85 707.7,1101.68 709.21,1098.6 710.77,1095.7 712.38,1092.99 714.08,1090.37 715.88,1087.85 717.77,1085.44 719.75,1083.13 721.83,1080.91 724.01,1078.77 728.97,1074.43 734.88,1069.88 742.58,1064.47 761.25,1052.11 778.88,1040.84 792.54,1032.54 805.26,1025.33 811.78,1021.85 818.31,1018.52 824.83,1015.35 831.35,1012.32 837.97,1009.41 844.68,1006.6 851.49,1003.9 858.44,1001.29"/></g><path d="M660.9 823H866.9M660.9 1467.4H866.9" stroke="#000" stroke-width="2.0" fill="none"/><path d="M661.8 822V1468.4M866 822V1468.4" stroke="#000" stroke-width="1.8" fill="none"/><path d="M669.36 1467.4V1475.3M707.18 1467.4V1475.3M744.99 1467.4V1475.3M782.81 1467.4V1475.3M820.62 1467.4V1475.3M858.44 1467.4V1475.3" stroke="#000" stroke-width="1.7" fill="none"/><path d="M661.8 1443.53H654.33M661.8 1290.38H654.33M661.8 1137.22H654.33M661.8 984.06H654.33M661.8 830.91H654.33" stroke="#000" stroke-width="2.0" fill="none"/><text x="669.36" y="1493.6" text-anchor="middle">0</text><text x="707.18" y="1493.6" text-anchor="middle">10</text><text x="744.99" y="1493.6" text-anchor="middle">20</text><text x="782.81" y="1493.6" text-anchor="middle">30</text><text x="820.62" y="1493.6" text-anchor="middle">40</text><text x="858.44" y="1493.6" text-anchor="middle">50</text><text class="r" transform="translate(644.4 1443.53) rotate(-90) scale(1 1.06)" text-anchor="middle">0.00</text><text class="r" transform="translate(644.4 1290.38) rotate(-90) scale(1 1.06)" text-anchor="middle">0.05</text><text class="r" transform="translate(644.4 1137.22) rotate(-90) scale(1 1.06)" text-anchor="middle">0.10</text><text class="r" transform="translate(644.4 984.06) rotate(-90) scale(1 1.06)" text-anchor="middle">0.15</text><text class="r" transform="translate(644.4 830.91) rotate(-90) scale(1 1.06)" text-anchor="middle">0.20</text><text x="763.9" y="1522.8" text-anchor="middle">x</text><text class="r" transform="translate(612.13 1145.2) rotate(-90)" text-anchor="middle" font-size="13.8"><tspan font-family="Liberation Serif, serif">λ</tspan>(x)</text><path d="M671.3 837.5H695.98" stroke="#000000" stroke-width="3"/><text y="842.1" font-size="12.3"><tspan x="704.93" font-family="Liberation Serif, serif" font-size="14">ε</tspan><tspan x="713.7">=</tspan><tspan x="724.35">0.8</tspan></text><path d="M671.3 852.2H695.98" stroke="#FF0000" stroke-width="3"/><text y="856.8" font-size="12.3"><tspan x="704.93" font-family="Liberation Serif, serif" font-size="14">ε</tspan><tspan x="713.7">=</tspan><tspan x="724.35">0.5</tspan></text><path d="M671.3 866.9H695.98" stroke="#00FF00" stroke-width="3"/><text y="871.5" font-size="12.3"><tspan x="704.93" font-family="Liberation Serif, serif" font-size="14">ε</tspan><tspan x="713.7">=</tspan><tspan x="724.35">0.3</tspan></text><path d="M671.3 881.6H695.98" stroke="#0000FF" stroke-width="3"/><text y="886.2" font-size="12.3"><tspan x="704.93" font-family="Liberation Serif, serif" font-size="14">ε</tspan><tspan x="713.7">=</tspan><tspan x="724.35">0.0</tspan></text><text transform="translate(363.47 36.05) scale(0.8994 1)" x="-1.67" font-size="20.4">ELL</text><text transform="translate(396.38 36.05) scale(1.0000 1)" x="-0.9" font-size="20.4" font-family="Liberation Serif, serif" style="stroke-width:0">(</text><text transform="translate(403.67 36.05) scale(1.0165 1)" x="-1.31" font-size="20.4" font-family="Liberation Serif, serif">β</text><text transform="translate(418.2 36.05) scale(0.9139 1)" x="-1" font-size="20.4">=2.5,</text><text transform="translate(464 36.05) scale(0.9484 1)" x="-0.78" font-size="20.4" font-family="Liberation Serif, serif">σ</text><text transform="translate(480 36.05) scale(0.9124 1)" x="-1" font-size="20.4">=4.5,</text><text transform="translate(525.6 36.05) scale(0.9919 1)" x="-0.79" font-size="20.4" font-family="Liberation Serif, serif">ε</text><text transform="translate(534.71 36.05) scale(1.0000 1)" x="-0.66" font-size="20.4" font-family="Liberation Serif, serif" style="stroke-width:0">)</text><text transform="translate(369.67 798.9) scale(0.9362 1)" x="-1.67" font-size="20.4">EG</text><text transform="translate(396.38 798.9) scale(1.0000 1)" x="-0.9" font-size="20.4" font-family="Liberation Serif, serif" style="stroke-width:0">(</text><text transform="translate(403.67 798.9) scale(1.0165 1)" x="-1.31" font-size="20.4" font-family="Liberation Serif, serif">β</text><text transform="translate(418.2 798.9) scale(0.9139 1)" x="-1" font-size="20.4">=2.5,</text><text transform="translate(464 798.9) scale(0.9484 1)" x="-0.78" font-size="20.4" font-family="Liberation Serif, serif">σ</text><text transform="translate(480 798.9) scale(0.9124 1)" x="-1" font-size="20.4">=4.5,</text><text transform="translate(525.6 798.9) scale(0.9919 1)" x="-0.79" font-size="20.4" font-family="Liberation Serif, serif">ε</text><text transform="translate(534.71 798.9) scale(1.0000 1)" x="-0.66" font-size="20.4" font-family="Liberation Serif, serif" style="stroke-width:0">)</text></svg></body></html>
